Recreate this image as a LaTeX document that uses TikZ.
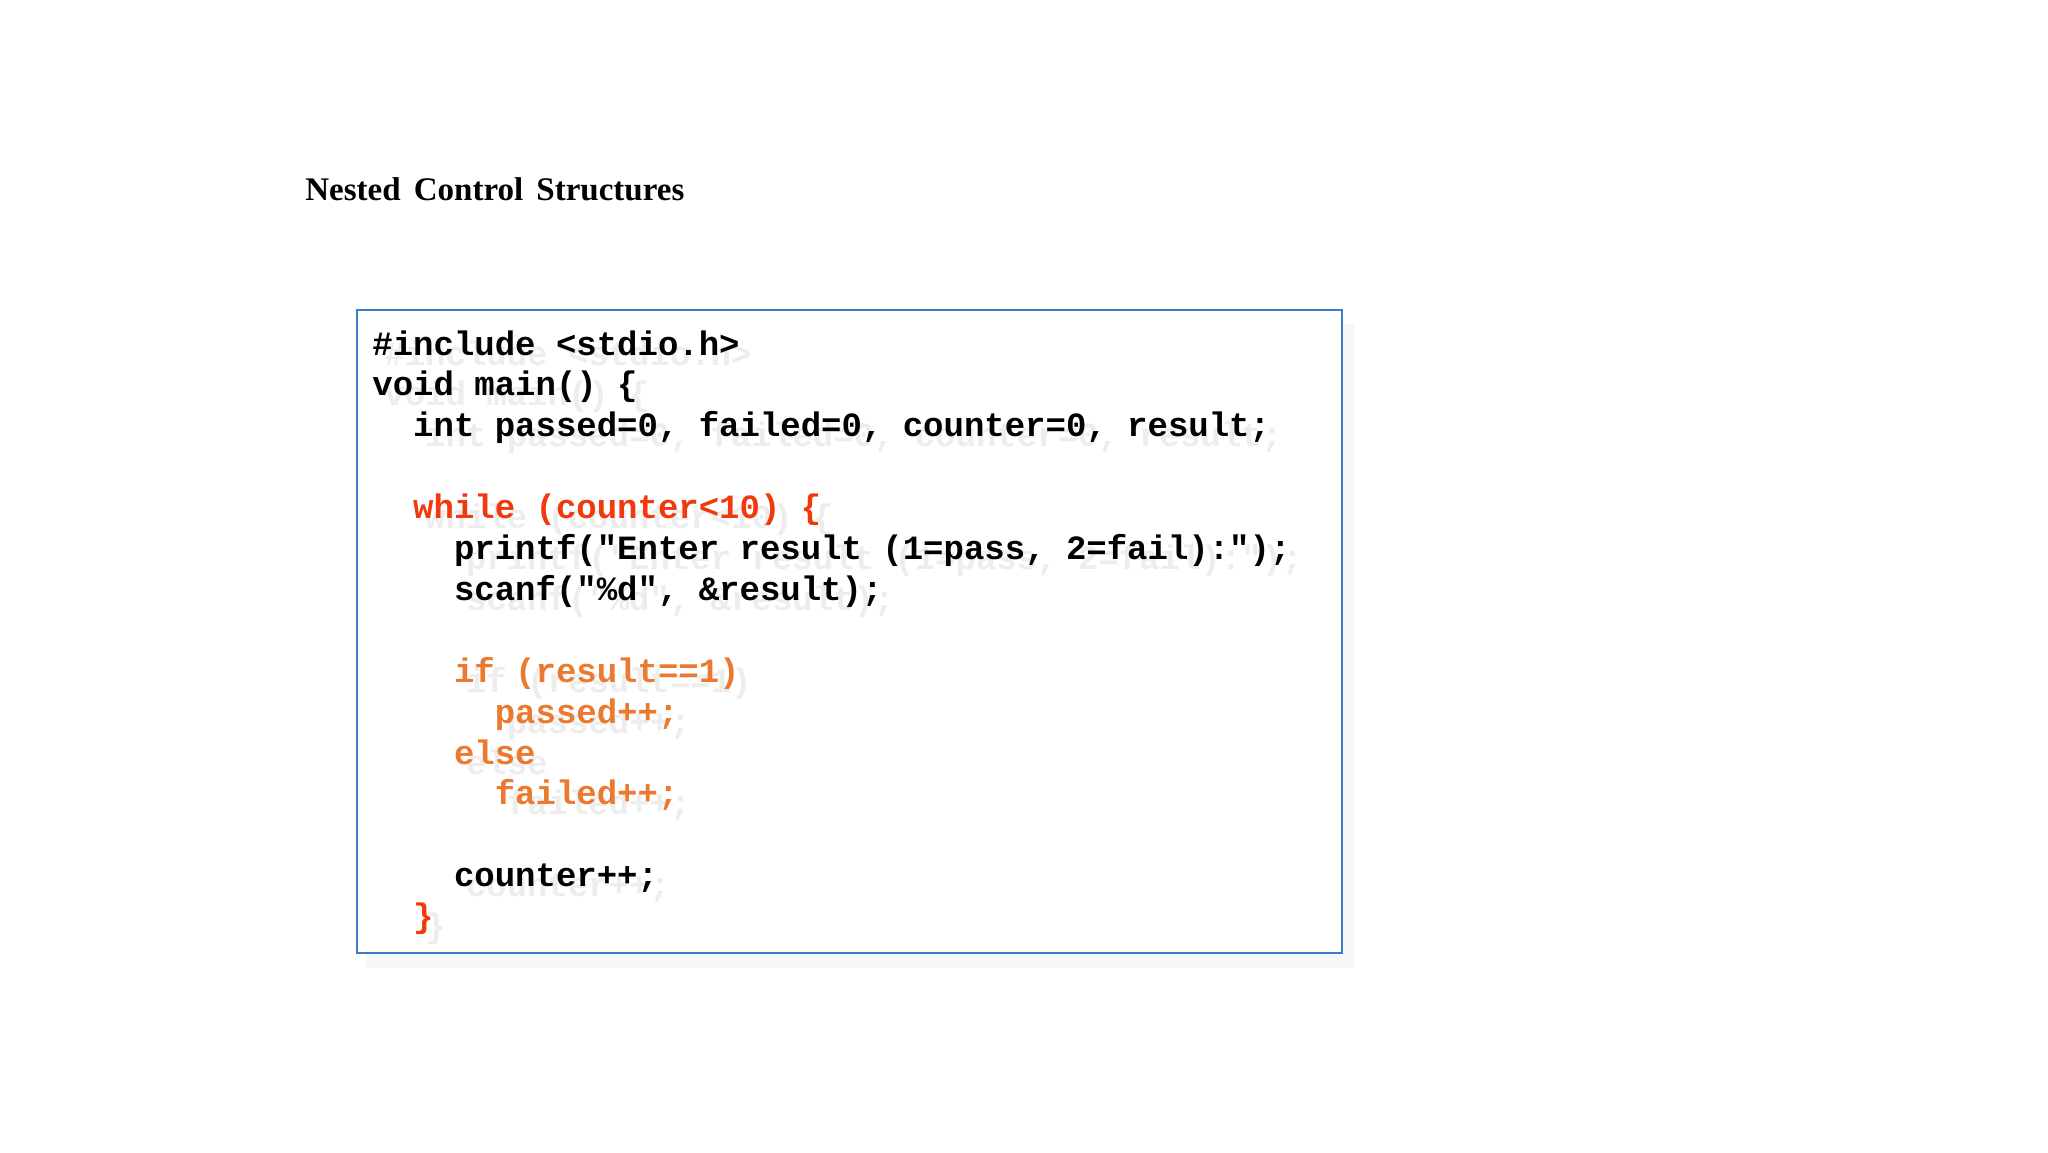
\documentclass[tikz,border=0pt]{standalone}
\usepackage{fontspec}
\setmainfont{Liberation Serif}
\newfontfamily\codefont{Liberation Mono}
\definecolor{kw}{HTML}{F03A0E}
\definecolor{kw2}{HTML}{EB7A30}
\definecolor{boxblue}{HTML}{3A7CC8}
\begin{document}
\begin{tikzpicture}[x=1pt,y=1pt,
  code/.style={anchor=base west,inner sep=0pt,font=\codefont\bfseries\fontsize{17}{17}\selectfont},
  ghost/.style={code,text=black!7}]
\useasboundingbox (0,0) rectangle (1024,-576);
\node[anchor=base west,inner sep=0pt,font=\bfseries\fontsize{16.5}{16.5}\selectfont] (title) at (152.5,-100) {Nested\hspace{0.4em}Control\hspace{0.4em}Structures};
\fill[black!3] (183,-162) rectangle (677,-484);
\draw[boxblue,line width=0.8pt,fill=white] (178.5,-155) rectangle (671,-476.5);
\def\L#1#2#3#4{%
  \node[ghost] (g#1) at (186+#2*10.2+6,-177.5-#1*20.45-5) {#4};
  \node[code,text=#3] (l#1) at (186+#2*10.2,-177.5-#1*20.45) {#4};}
\L{0}{0}{black}{\#include <stdio.h>}
\L{1}{0}{black}{void main() \{}
\L{2}{2}{black}{int passed=0, failed=0, counter=0, result;}
\L{4}{2}{kw}{while (counter<10) \{}
\L{5}{4}{black}{printf("Enter result (1=pass, 2=fail):");}
\L{6}{4}{black}{scanf("\%d", \&result);}
\L{8}{4}{kw2}{if (result==1)}
\L{9}{6}{kw2}{passed++;}
\L{10}{4}{kw2}{else}
\L{11}{6}{kw2}{failed++;}
\L{13}{4}{black}{counter++;}
\L{14}{2}{kw}{\}}
\end{tikzpicture}
\end{document}
